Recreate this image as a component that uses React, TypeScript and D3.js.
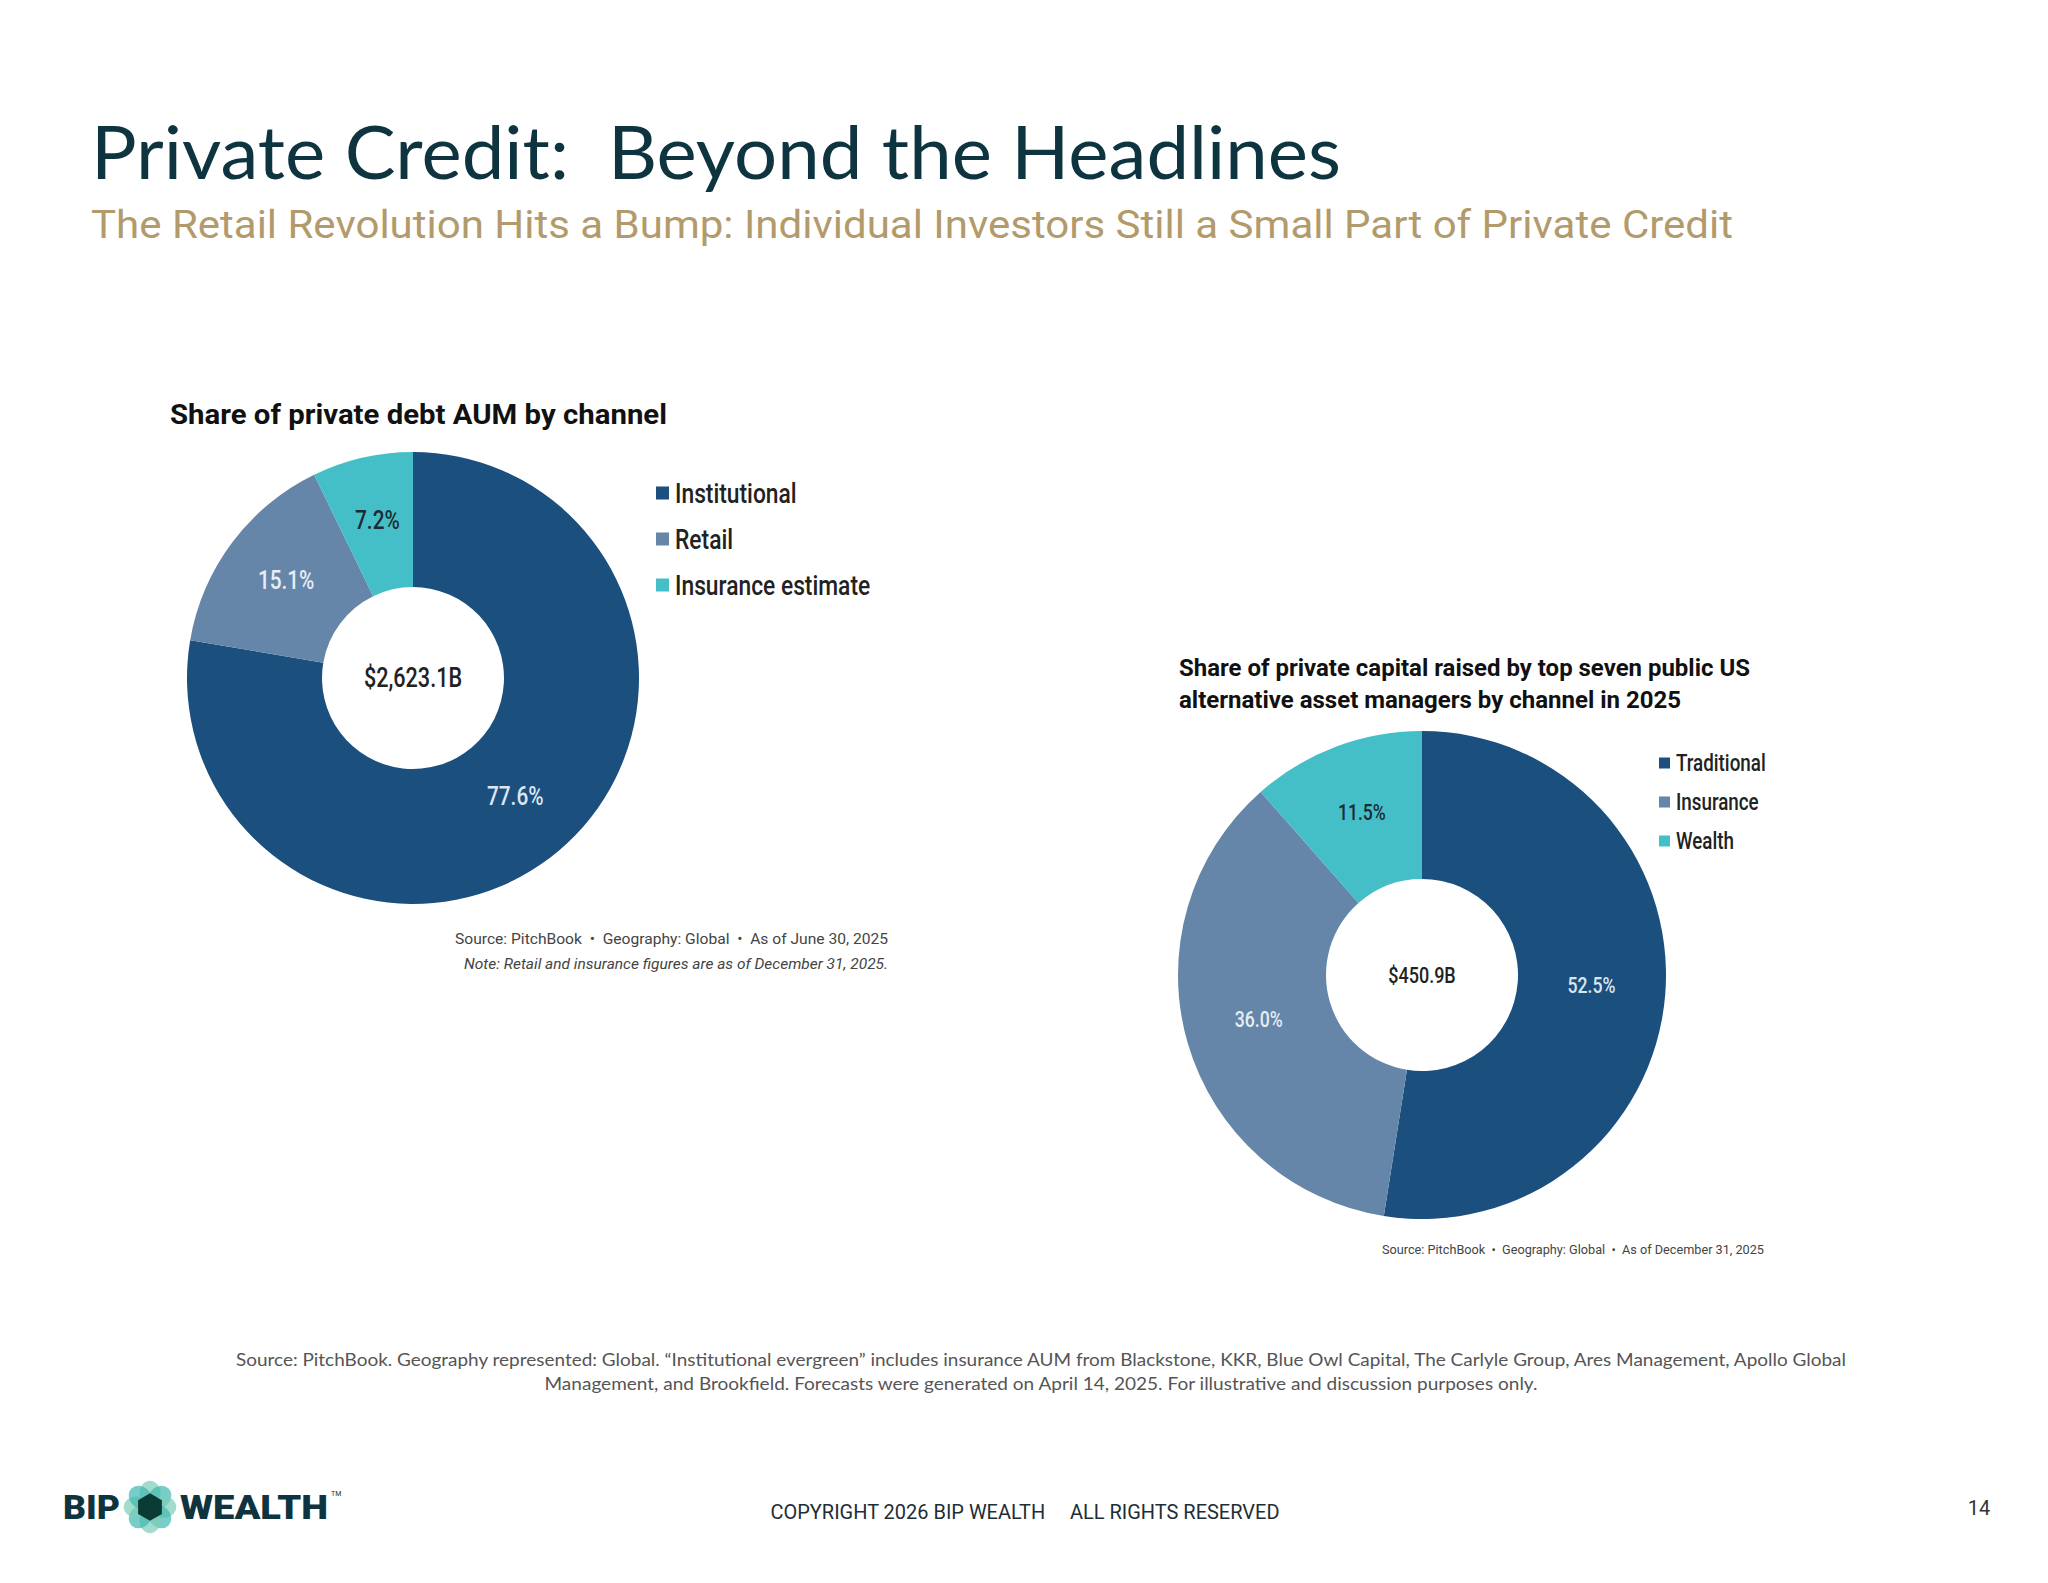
import React from 'react'
import * as d3 from 'd3'

// Share of private debt AUM by channel
const debtChannels = ['Institutional', 'Retail', 'Insurance estimate']
const debtShares = [77.6, 15.1, 7.2]
const debtTotal = '$2,623.1B'

// Share of private capital raised, top seven US alt managers, 2025
const capitalChannels = ['Traditional', 'Insurance', 'Wealth']
const capitalShares = [52.5, 36.0, 11.5]
const capitalTotal = '$450.9B'

const sliceColors = ['#1b4f7e', '#6586a8', '#45bfc7']
const labelColors = ['#dce6f0', '#e6edf5', '#1d2b33']

const W = 2048
const H = 1583
const COND = 'Roboto, "Liberation Sans Narrow", sans-serif'
const PRE = { whiteSpace: 'pre' as const }

type DonutProps = {
  cx: number
  cy: number
  outer: number
  inner: number
  names: string[]
  values: number[]
  total: string
  labelSize: number
  totalSize: number
}

const Donut = ({ cx, cy, outer, inner, names, values, total, labelSize, totalSize }: DonutProps) => {
  const pie = d3.pie<number>().sort(null).value(d => d)
  const arcs = pie(values)
  const arc = d3.arc<d3.PieArcDatum<number>>().innerRadius(inner).outerRadius(outer)
  const color = d3.scaleOrdinal<string, string>().domain(names).range(sliceColors)
  const ink = d3.scaleOrdinal<string, string>().domain(names).range(labelColors)
  return (
    <g transform={`translate(${cx},${cy})`}>
      {arcs.map((a, i) => (
        <path key={names[i]} d={arc(a) || ''} fill={color(names[i])} />
      ))}
      {arcs.map((a, i) => {
        const [x, y] = arc.centroid(a)
        return (
          <text key={'l' + names[i]} transform={`translate(${x},${y - 3}) scale(0.8,1)`}
            textAnchor="middle" dominantBaseline="central" fontFamily={COND} fontWeight={500}
            fontSize={labelSize} fill={ink(names[i])}>
            {d3.format('.1f')(values[i])}%
          </text>
        )
      })}
      <text transform="scale(0.8,1)" textAnchor="middle" dominantBaseline="central"
        fontFamily={COND} fontWeight={500} fontSize={totalSize} fill="#222">
        {total}
      </text>
    </g>
  )
}

type LegendProps = { x: number; y: number; step: number; size: number; box: number; names: string[] }

const Legend = ({ x, y, step, size, box, names }: LegendProps) => {
  const color = d3.scaleOrdinal<string, string>().domain(names).range(sliceColors)
  const pos = d3.scalePoint<string>().domain(names).range([y, y + step * (names.length - 1)])
  return (
    <g>
      {names.map(n => (
        <g key={n} transform={`translate(${x},${pos(n)})`}>
          <rect x={0} y={-box / 2} width={box} height={box} fill={color(n)} />
          <text transform={`translate(${box + 6},0) scale(0.8,1)`} dominantBaseline="central"
            fontFamily={COND} fontWeight={500} fontSize={size} fill="#222">
            {n}
          </text>
        </g>
      ))}
    </g>
  )
}

// petal emblem of the logo
const Emblem = ({ cx, cy, r }: { cx: number; cy: number; r: number }) => {
  const petals = d3.range(8).map(i => (i * 360) / 8)
  return (
    <g transform={`translate(${cx},${cy})`}>
      {petals.map((deg, i) => (
        <ellipse key={deg} cx={0} cy={-r * 0.55} rx={r * 0.42} ry={r * 0.5}
          transform={`rotate(${deg})`} fill={i % 2 ? '#3fb8b0' : '#7ccdb6'} opacity={0.7} />
      ))}
      <polygon points={d3.range(6).map(i => {
        const t = (i * Math.PI) / 3
        return `${Math.sin(t) * r * 0.55},${-Math.cos(t) * r * 0.55}`
      }).join(' ')} fill="#0b3b35" />
    </g>
  )
}

export default function App() {
  return (
    <svg width={W} height={H} viewBox={`0 0 ${W} ${H}`}
      style={{ display: 'block', position: 'absolute', left: 0, top: 0, background: '#fff' }}>
      <rect width={W} height={H} fill="#fff" />

      <text x={91} y={179} style={PRE} fontFamily="Lato, 'Open Sans', sans-serif" fontSize={74}
        fill="#0e3440" textLength={1250} lengthAdjust="spacingAndGlyphs">
        Private Credit:  Beyond the Headlines
      </text>
      <text x={91} y={238} fontFamily="Roboto, sans-serif" fontSize={39}
        fill="#b39a6b" textLength={1642} lengthAdjust="spacingAndGlyphs">
        The Retail Revolution Hits a Bump: Individual Investors Still a Small Part of Private Credit
      </text>

      {/* left chart */}
      <text x={170} y={424} fontFamily={COND} fontWeight={700} fontSize={28} fill="#111"
        textLength={497} lengthAdjust="spacingAndGlyphs">
        Share of private debt AUM by channel
      </text>
      <Donut cx={413} cy={678} outer={226} inner={91} names={debtChannels} values={debtShares}
        total={debtTotal} labelSize={26} totalSize={27} />
      <Legend x={656} y={493} step={46} size={28.5} box={13} names={debtChannels} />
      <text x={888} y={944} style={PRE} textAnchor="end" fontFamily={COND} fontSize={15.5} fill="#444"
        textLength={433} lengthAdjust="spacingAndGlyphs">
        Source: PitchBook  •  Geography: Global  •  As of June 30, 2025
      </text>
      <text x={888} y={969} textAnchor="end" fontFamily={COND} fontStyle="italic" fontSize={15.5}
        fill="#444" textLength={424} lengthAdjust="spacingAndGlyphs">
        Note: Retail and insurance figures are as of December 31, 2025.
      </text>

      {/* right chart */}
      <text x={1179} y={676} fontFamily={COND} fontWeight={700} fontSize={24} fill="#111"
        textLength={571} lengthAdjust="spacingAndGlyphs">
        Share of private capital raised by top seven public US
      </text>
      <text x={1179} y={708} fontFamily={COND} fontWeight={700} fontSize={24} fill="#111"
        textLength={502} lengthAdjust="spacingAndGlyphs">
        alternative asset managers by channel in 2025
      </text>
      <Donut cx={1422} cy={975} outer={244} inner={96} names={capitalChannels} values={capitalShares}
        total={capitalTotal} labelSize={22} totalSize={22.5} />
      <Legend x={1659} y={763} step={39} size={23.5} box={11} names={capitalChannels} />
      <text x={1764} y={1254} style={PRE} textAnchor="end" fontFamily={COND} fontSize={13} fill="#444"
        textLength={382} lengthAdjust="spacingAndGlyphs">
        Source: PitchBook  •  Geography: Global  •  As of December 31, 2025
      </text>

      {/* footnote */}
      <g fontFamily="Lato, 'Open Sans', sans-serif" fontSize={18} fill="#555" textAnchor="middle">
        <text x={1041} y={1366} textLength={1610} lengthAdjust="spacingAndGlyphs">
          Source: PitchBook. Geography represented: Global. “Institutional evergreen” includes insurance AUM from Blackstone, KKR, Blue Owl Capital, The Carlyle Group, Ares Management, Apollo Global
        </text>
        <text x={1041} y={1390} textLength={993} lengthAdjust="spacingAndGlyphs">
          Management, and Brookfield. Forecasts were generated on April 14, 2025. For illustrative and discussion purposes only.
        </text>
      </g>

      {/* footer */}
      <text x={63} y={1519} fontFamily="Roboto, sans-serif" fontWeight={900} fontSize={34} fill="#0e3440"
        textLength={57} lengthAdjust="spacingAndGlyphs">BIP</text>
      <Emblem cx={150} cy={1507} r={25} />
      <text x={180} y={1519} fontFamily="Roboto, sans-serif" fontWeight={900} fontSize={34} fill="#0e3440"
        textLength={148} lengthAdjust="spacingAndGlyphs">WEALTH</text>
      <text x={331} y={1496} fontFamily="Roboto, sans-serif" fontSize={7} fill="#0e3440">TM</text>
      <text x={1025} y={1519} style={PRE} textAnchor="middle" fontFamily="Roboto, sans-serif" fontSize={20}
        fill="#1e2d36" textLength={509} lengthAdjust="spacingAndGlyphs">
        COPYRIGHT 2026 BIP WEALTH     ALL RIGHTS RESERVED
      </text>
      <text x={1979} y={1515} textAnchor="middle" fontFamily="Roboto, sans-serif" fontSize={20} fill="#333">14</text>
    </svg>
  )
}
